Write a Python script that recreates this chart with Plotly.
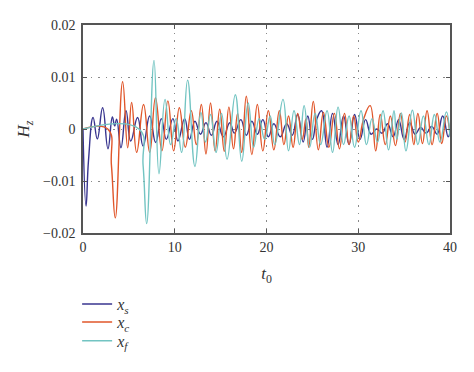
import plotly.graph_objects as go

# x_s (dark blue) points
xs_t = [0, 0.33, 0.6, 1.1, 1.56, 2.14, 2.72, 3.2, 3.45, 3.67, 4.14, 4.69, 5.2, 5.95, 6.55, 7.27, 7.92,
        8.54, 9.08, 9.8, 10.35, 11.08, 11.6, 12.2, 12.8, 13.4, 14.0, 14.6, 15.3, 16.0, 16.5, 17.2,
        17.8, 18.4, 19.0, 19.6, 20.2, 20.8, 21.5, 22.2, 22.8, 23.4, 24.0, 24.5, 25.0, 25.5, 26.0,
        26.6, 27.2, 27.8, 28.4, 29.0, 29.6, 30.2, 30.8, 31.4, 32.0, 32.6, 33.2, 33.8, 34.4, 35.0,
        35.6, 36.2, 36.8, 37.4, 38.0, 38.6, 39.2, 39.8, 40]
xs_v = [0, -0.0148, -0.006, 0.0022, -0.0019, 0.0041, -0.0038, 0.0023, 0.0006, 0.0019, -0.0036, 0.0035,
        -0.0023, 0.0022, -0.0033, 0.0025, -0.0026, 0.002, -0.002, 0.002, -0.0023, 0.002, -0.002,
        0.0015, -0.001, 0.0012, -0.0012, 0.0015, -0.0015, 0.0012, -0.0008, 0.0018, -0.0012, 0.0015,
        -0.001, 0.0018, -0.0015, 0.001, -0.0015, 0.001, -0.0012, 0.0028, -0.0025, 0.0025, -0.002,
        0.002, 0.0035, -0.0035, 0.003, -0.003, 0.0025, -0.003, 0.0028, -0.002, 0.0018, -0.001, 0.0,
        -0.0008, 0.001, -0.0015, 0.0018, -0.002, 0.0012, -0.001, 0.0003, -0.0008, 0.0005, -0.001,
        0.0025, -0.0015, -0.0005]

# x_c (orange) points
xc_t = [0, 2.7, 3.1, 3.52, 4.32, 4.87, 5.3, 5.85, 6.6, 7.27, 7.9, 8.6, 9.25, 9.88, 10.5, 11.15, 11.8,
        12.35, 12.9, 13.4, 13.9, 14.4, 14.9, 15.4, 15.9, 16.4, 16.85, 17.3, 17.8, 18.4, 19.0, 19.6,
        20.2, 20.8, 21.4, 21.9, 22.4, 22.9, 23.4, 23.9, 24.3, 24.6, 25.1, 25.65, 26.2, 26.8, 27.4,
        27.95, 28.5, 29.0, 29.5, 30.0, 30.6, 31.3, 31.9, 32.4, 32.95, 33.5, 34.05, 34.6, 35.1, 35.6,
        36.05, 36.5, 37.0, 37.5, 38.05, 38.6, 39.1, 39.6, 40]
xc_v = [0, 0, -0.007, -0.0171, 0.0091, -0.0036, 0.0051, -0.0045, 0.0047, -0.0045, 0.006, -0.0042, 0.0054,
        -0.0042, 0.0041, -0.0035, 0.0035, -0.003, 0.0047, -0.0048, 0.005, -0.0042, 0.0038, -0.0043,
        0.0042, -0.0038, 0.003, -0.0045, 0.0063, -0.0049, 0.0047, -0.0042, 0.0035, -0.004, 0.0035,
        -0.003, 0.0025, -0.0035, 0.003, -0.002, 0.002, -0.0035, 0.0053, -0.004, 0.0032, -0.0035,
        0.003, -0.0038, 0.003, -0.003, 0.0025, -0.0025, 0.002, 0.0045, -0.0042, 0.0028, -0.003,
        0.0025, -0.0032, 0.003, -0.0025, 0.0028, -0.003, 0.003, -0.0028, 0.0035, -0.003, 0.003,
        -0.0028, 0.0025, -0.001]

# x_f (teal) points
xf_t = [0, 6.1, 6.55, 6.94, 7.74, 8.28, 8.94, 9.55, 10.15, 10.75, 11.4, 12.2, 12.85, 13.35, 13.9, 14.5,
        15.1, 15.7, 16.6, 17.3, 18.0, 18.6, 19.2, 19.8, 20.4, 20.9, 21.8, 22.4, 23.0, 23.6, 24.1,
        24.7, 25.3, 25.9, 26.6, 27.2, 27.8, 28.4, 29.0, 29.6, 30.3, 30.9, 31.5, 32.1, 32.7, 33.3,
        33.9, 34.2, 34.7, 35.2, 35.9, 36.5, 37.1, 37.7, 38.3, 38.9, 39.6, 40]
xf_v = [0, 0, -0.007, -0.0182, 0.0132, -0.0086, 0.0057, -0.003, 0.002, -0.0045, 0.0094, -0.0072, 0.0032,
        -0.0025, 0.0028, -0.0045, 0.003, -0.0058, 0.0066, -0.0062, 0.005, -0.0035, 0.002, -0.002,
        0.0025, -0.003, 0.0057, -0.0042, 0.0035, -0.003, 0.0045, -0.0035, 0.003, -0.003, 0.0035,
        -0.0045, 0.0042, -0.003, 0.0025, -0.0035, 0.0035, -0.003, 0.002, -0.0025, 0.0035, -0.004,
        0.0035, -0.002, 0.0031, -0.0042, 0.0036, -0.003, 0.0025, -0.003, 0.0028, -0.0025, 0.0033,
        -0.0015]

x_ticks = [0, 10, 20, 30, 40]
y_ticks = [-0.02, -0.01, 0, 0.01, 0.02]
y_tick_labels = ["\u22120.02", "\u22120.01", "0", "0.01", "0.02"]

series = [
    ("<i>x</i><sub><i>s</i></sub>", xs_t, xs_v, "#38358f", "legend", 0.1865),
    ("<i>x</i><sub><i>c</i></sub>", xc_t, xc_v, "#e0562a", "legend2", 0.137),
    ("<i>x</i><sub><i>f</i></sub>", xf_t, xf_v, "#72c4c2", "legend3", 0.0855),
]

font = "Liberation Serif"

fig = go.Figure()
legend_layout = {}
for name, t, v, c, lg, ly in series:
    fig.add_trace(go.Scatter(x=t, y=v, mode="lines", name=name, legend=lg,
                             line=dict(color=c, width=1.4, shape="spline", smoothing=1.3)))
    legend_layout[lg] = dict(xref="paper", yref="container", x=-0.016, y=ly,
                             xanchor="left", yanchor="middle",
                             font=dict(family=font, size=16, color="#333333"),
                             itemwidth=30, bgcolor="rgba(0,0,0,0)")

axis_common = dict(
    showline=True, linecolor="#555555", linewidth=1.5, mirror="ticks",
    ticks="inside", ticklen=4, tickcolor="#555555", tickwidth=1,
    showgrid=True, gridcolor="#8a8a8a", griddash="1.5px,6px", gridwidth=1,
    zeroline=False, automargin=False,
    tickfont=dict(family=font, size=14, color="#333333"),
)
fig.update_xaxes(range=[0, 40], tickvals=x_ticks,
                 title=dict(text="<i>t</i><sub>0</sub>", font=dict(family=font, size=17, color="#333333"), standoff=14),
                 **axis_common)
fig.update_yaxes(range=[-0.02, 0.02], tickvals=y_ticks, ticktext=y_tick_labels, ticklabelstandoff=3,
                 title=dict(text="<i>H</i><sub><i>z</i></sub>", font=dict(family=font, size=17, color="#333333"), standoff=9),
                 **axis_common)

# page body has an 8px margin, so the figure is shifted by 8px right and down
fig.update_layout(
    width=466, height=364,
    margin=dict(l=75, r=24, t=17, b=139),
    plot_bgcolor="white", paper_bgcolor="white",
    showlegend=True,
    **legend_layout,
)

fig.write_html("out.html")
